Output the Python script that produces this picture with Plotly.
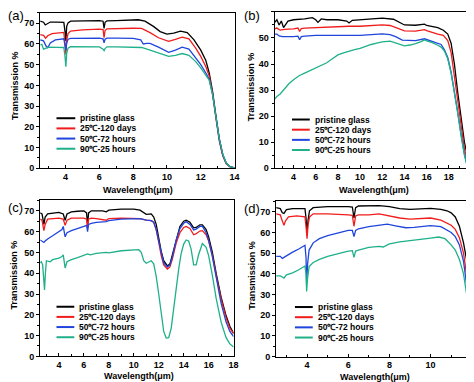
import plotly.graph_objects as go

W, H = 474, 382

series_names = ["pristine glass", "25℃-120 days", "50℃-72 hours", "90℃-25 hours"]
series_colors = ["#000000", "#f01c1c", "#1f45dc", "#1fb08a"]

# ---------------- Panel (a) ----------------
a_black_x = [2.5, 2.7, 2.8, 2.9, 3.1, 3.5, 3.9, 3.97, 4.02, 4.07, 4.15, 4.3, 5.0, 6.0, 6.22, 6.28, 6.34, 6.45, 7.0, 8.0, 8.3, 8.7, 9.2, 9.6, 10.0, 10.4, 10.8, 11.2, 11.6, 12.0, 12.3, 12.5, 12.7, 12.9, 13.1, 13.3, 13.5, 13.7, 14.0]
a_black_y = [71.0, 70.5, 69.2, 69.8, 70.6, 70.6, 70.4, 66.0, 61.5, 68.5, 70.2, 71.0, 71.2, 71.3, 71.0, 67.5, 70.5, 71.2, 71.3, 71.4, 71.7, 71.0, 68.5, 66.0, 64.8, 65.2, 66.2, 65.5, 62.0, 57.0, 52.0, 46.0, 37.0, 25.0, 14.0, 6.5, 2.5, 0.8, 0.2]
a_red_x = [2.5, 2.7, 2.82, 2.95, 3.2, 3.6, 3.9, 3.97, 4.02, 4.07, 4.15, 4.3, 5.0, 6.0, 6.22, 6.28, 6.34, 6.45, 7.0, 8.0, 8.5, 9.0, 9.5, 10.1, 10.5, 10.9, 11.3, 11.7, 12.0, 12.3, 12.5, 12.7, 12.9, 13.1, 13.3, 13.5, 13.7, 14.0]
a_red_y = [64.5, 64.2, 62.8, 64.0, 65.0, 65.5, 65.6, 60.0, 55.0, 62.0, 65.0, 66.2, 66.8, 67.2, 67.0, 63.0, 66.5, 67.3, 67.5, 67.6, 67.5, 65.5, 63.0, 61.3, 62.2, 63.3, 62.5, 58.0, 54.0, 49.0, 44.5, 36.0, 24.0, 13.0, 6.0, 2.2, 0.7, 0.2]
a_blue_x = [2.5, 2.7, 2.85, 2.95, 3.1, 3.4, 3.9, 3.97, 4.02, 4.07, 4.15, 4.3, 5.0, 6.0, 6.22, 6.28, 6.34, 6.45, 7.0, 8.0, 8.45, 8.6, 8.8, 9.0, 9.5, 10.1, 10.5, 10.9, 11.3, 11.7, 12.0, 12.3, 12.5, 12.7, 12.9, 13.1, 13.3, 13.5, 13.7, 14.0]
a_blue_y = [62.0, 61.5, 59.0, 58.2, 60.5, 62.0, 62.5, 59.5, 57.0, 60.5, 62.3, 62.7, 62.8, 62.8, 62.5, 60.5, 62.3, 62.8, 62.8, 62.7, 62.0, 60.0, 60.3, 60.3, 58.5, 56.0, 57.0, 58.5, 57.5, 53.5, 50.0, 46.0, 43.0, 35.5, 24.0, 13.5, 6.5, 2.5, 0.8, 0.2]
a_green_x = [2.5, 2.6, 2.7, 2.8, 3.0, 3.5, 3.9, 3.97, 4.02, 4.07, 4.15, 4.3, 5.0, 6.0, 6.22, 6.28, 6.34, 6.45, 7.0, 8.0, 8.5, 9.0, 9.5, 10.1, 10.5, 10.9, 11.3, 11.7, 12.0, 12.3, 12.5, 12.7, 12.9, 13.1, 13.3, 13.5, 13.7, 14.0]
a_green_y = [59.5, 59.8, 57.5, 57.8, 58.5, 58.4, 58.3, 54.0, 49.0, 55.5, 58.0, 58.7, 58.8, 58.6, 57.5, 56.8, 57.8, 58.6, 58.6, 58.6, 58.3, 57.0, 55.5, 54.0, 54.5, 55.4, 54.5, 51.5, 48.5, 45.0, 42.5, 35.5, 24.5, 14.0, 6.8, 2.6, 0.8, 0.2]

# ---------------- Panel (b) ----------------
b_black_x = [2.3, 2.5, 2.7, 2.9, 3.1, 3.3, 3.5, 4.0, 5.0, 5.7, 6.0, 6.2, 6.5, 7.0, 8.0, 8.8, 9.0, 9.3, 10.0, 11.0, 12.0, 13.0, 13.7, 14.0, 15.0, 15.8, 16.0, 16.5, 17.0, 17.5, 17.9, 18.2, 18.5, 18.8, 19.1, 19.4, 19.7, 19.95]
b_black_y = [56.0, 57.0, 55.0, 56.5, 54.0, 55.5, 56.5, 57.0, 57.3, 57.8, 57.0, 56.0, 57.3, 57.0, 57.0, 56.5, 55.8, 56.8, 57.0, 57.3, 57.6, 57.2, 55.5, 55.0, 54.9, 55.3, 54.8, 54.5, 54.0, 53.0, 51.5, 48.0, 40.0, 29.0, 18.5, 10.0, 4.0, 0.3]
b_red_x = [2.3, 2.5, 2.8, 3.2, 4.0, 4.4, 4.55, 4.7, 5.0, 6.0, 7.0, 8.0, 9.0, 10.0, 11.0, 12.0, 12.7, 13.2, 13.7, 14.0, 15.0, 15.8, 16.0, 16.5, 17.0, 17.5, 17.9, 18.2, 18.5, 18.8, 19.1, 19.4, 19.7, 19.85]
b_red_y = [53.5, 53.8, 53.0, 53.3, 53.5, 53.8, 52.5, 53.6, 53.8, 54.0, 54.2, 54.4, 54.5, 54.5, 54.7, 55.0, 54.8, 54.0, 53.0, 52.7, 52.6, 53.2, 52.8, 52.0, 51.5, 51.0, 49.0, 44.5, 35.0, 24.5, 15.0, 7.5, 2.0, 0.3]
b_blue_x = [2.3, 2.5, 2.7, 3.0, 4.0, 4.4, 4.55, 4.7, 5.0, 6.0, 7.0, 8.0, 9.0, 10.0, 11.0, 12.0, 12.7, 13.2, 13.8, 14.5, 15.0, 15.8, 16.0, 16.5, 17.0, 17.3, 17.6, 17.9, 18.2, 18.5, 18.8, 19.1, 19.4, 19.65, 19.8]
b_blue_y = [51.5, 51.5, 50.8, 50.5, 50.5, 50.7, 49.3, 50.5, 50.7, 51.0, 51.0, 51.0, 51.0, 51.0, 51.3, 51.6, 51.3, 50.5, 49.2, 49.0, 49.0, 49.7, 49.4, 48.7, 48.0, 47.5, 45.5, 42.5, 37.0, 30.0, 21.5, 13.0, 5.5, 1.0, 0.0]
b_green_x = [2.3, 2.5, 2.8, 3.2, 3.6, 4.0, 4.5, 5.0, 5.5, 6.0, 6.5, 7.0, 7.5, 8.0, 8.5, 9.0, 9.5, 10.0, 10.5, 11.0, 11.5, 12.0, 12.7, 13.2, 13.7, 14.0, 14.5, 15.0, 15.5, 15.8, 16.0, 16.5, 17.0, 17.3, 17.6, 17.9, 18.2, 18.5, 18.8, 19.1, 19.4, 19.65, 19.75]
b_green_y = [26.5, 27.5, 28.5, 30.5, 32.5, 34.0, 35.5, 36.5, 37.5, 38.5, 39.3, 40.5, 42.0, 43.5, 44.3, 45.0, 45.5, 46.0, 46.8, 47.5, 48.0, 48.5, 48.8, 48.0, 47.3, 47.0, 47.3, 47.8, 48.6, 49.3, 48.9, 48.2, 47.2, 46.5, 45.0, 42.0, 36.5, 29.5, 21.0, 12.5, 5.0, 0.8, 0.0]

# ---------------- Panel (c) ----------------
c_black_x = [2.5, 2.65, 2.8, 2.9, 3.1, 3.5, 4.0, 4.35, 4.5, 4.65, 5.0, 5.5, 6.0, 6.22, 6.3, 6.38, 6.6, 7.0, 7.5, 7.8, 8.0, 9.0, 10.0, 10.5, 10.8, 11.0, 11.4, 11.6, 11.8, 12.0, 12.2, 12.4, 12.7, 12.9, 13.1, 13.4, 13.7, 14.0, 14.2, 14.5, 14.8, 15.0, 15.3, 15.5, 15.8, 16.0, 16.3, 16.6, 17.0, 17.4, 17.7, 18.0]
c_black_y = [69.0, 68.5, 63.5, 67.0, 68.5, 69.0, 69.3, 68.5, 65.5, 68.5, 69.5, 69.8, 70.0, 69.0, 63.0, 69.0, 70.0, 70.0, 70.0, 69.5, 70.3, 70.8, 70.8, 70.3, 69.0, 68.3, 68.5, 67.0, 63.5, 57.0, 50.5, 46.0, 43.5, 44.5, 49.0, 57.0, 62.5, 65.0, 65.5, 64.5, 61.8, 62.0, 63.3, 63.3, 61.0, 57.5, 50.0, 40.0, 28.5, 19.5, 14.5, 11.0]
c_red_x = [2.5, 2.65, 2.8, 2.9, 3.1, 3.5, 4.0, 4.35, 4.5, 4.65, 5.0, 6.0, 6.22, 6.3, 6.38, 6.6, 7.0, 7.8, 8.0, 9.0, 10.0, 10.5, 11.0, 11.4, 11.6, 11.8, 12.0, 12.2, 12.4, 12.7, 12.9, 13.1, 13.4, 13.7, 14.0, 14.2, 14.5, 14.8, 15.0, 15.3, 15.5, 15.8, 16.0, 16.3, 16.6, 17.0, 17.4, 17.7, 18.0]
c_red_y = [66.0, 65.5, 60.5, 63.5, 66.0, 66.3, 66.5, 66.0, 63.0, 65.5, 66.5, 66.5, 66.0, 61.5, 66.0, 66.5, 66.3, 65.5, 66.3, 66.5, 66.5, 66.3, 65.5, 65.3, 64.5, 61.0, 55.0, 48.5, 44.0, 42.0, 43.0, 47.0, 54.5, 59.5, 62.0, 62.5, 61.5, 58.5, 59.0, 60.3, 60.5, 58.5, 55.5, 48.5, 39.0, 27.5, 18.5, 13.5, 11.0]
c_blue_x = [2.5, 2.65, 2.8, 2.9, 3.1, 3.5, 4.0, 4.25, 4.35, 4.5, 4.65, 5.0, 6.0, 6.22, 6.3, 6.38, 6.6, 7.0, 7.8, 8.0, 9.0, 10.0, 10.5, 11.0, 11.4, 11.6, 11.8, 12.0, 12.2, 12.4, 12.7, 12.9, 13.1, 13.4, 13.7, 14.0, 14.2, 14.5, 14.8, 15.0, 15.3, 15.5, 15.8, 16.0, 16.3, 16.6, 17.0, 17.4, 17.7, 18.0]
c_blue_y = [56.0, 55.5, 54.8, 55.5, 56.5, 58.0, 60.0, 61.0, 62.5, 57.5, 59.5, 60.5, 62.5, 63.0, 60.0, 63.5, 64.0, 64.5, 64.8, 65.3, 66.0, 66.3, 66.3, 65.5, 65.3, 64.5, 61.0, 55.5, 49.5, 45.0, 43.0, 44.0, 48.0, 56.0, 61.5, 64.0, 64.8, 63.5, 60.8, 61.2, 62.5, 62.5, 59.5, 56.0, 48.0, 37.5, 25.5, 16.5, 12.0, 9.5]
c_green_x = [2.5, 2.6, 2.7, 2.8, 2.85, 2.92, 3.0, 3.3, 3.5, 4.0, 4.25, 4.35, 4.5, 4.65, 5.0, 5.5, 6.0, 6.3, 6.5, 7.0, 7.8, 8.0, 9.0, 10.0, 10.4, 10.6, 10.8, 11.0, 11.2, 11.4, 11.6, 11.8, 12.0, 12.2, 12.4, 12.6, 12.8, 13.0, 13.2, 13.4, 13.6, 13.8, 14.0, 14.2, 14.4, 14.6, 14.8, 15.0, 15.2, 15.5, 15.8, 16.0, 16.3, 16.6, 17.0, 17.4, 17.7, 18.0]
c_green_y = [45.0, 45.5, 44.0, 38.0, 32.0, 40.0, 46.0, 45.5, 46.5, 47.3, 48.0, 48.8, 42.5, 45.5, 46.5, 47.5, 48.5, 49.3, 48.8, 49.5, 50.0, 49.8, 50.8, 51.3, 51.3, 50.0, 46.0, 44.8, 45.5, 46.0, 44.5, 38.5, 30.0, 20.0, 12.0, 8.8, 9.0, 13.5, 22.0, 32.5, 42.0, 49.5, 54.0, 56.0, 55.5, 51.5, 44.0, 44.0, 49.0, 54.3, 52.5, 48.5, 39.0, 28.0, 16.5, 9.0, 6.0, 4.5]

# ---------------- Panel (d) ----------------
d_black_x = [2.5, 2.7, 2.8, 2.88, 3.0, 3.3, 3.6, 3.9, 3.95, 4.0, 4.05, 4.12, 4.3, 5.0, 6.0, 6.2, 6.28, 6.36, 6.5, 7.0, 7.5, 8.0, 8.5, 9.0, 9.5, 10.0, 10.5, 10.8, 11.0, 11.2, 11.4, 11.6, 11.8, 12.0]
d_black_y = [72.0, 71.5, 69.5, 69.2, 71.0, 71.5, 71.5, 71.5, 67.0, 60.0, 66.0, 70.5, 72.0, 72.5, 72.5, 72.3, 67.0, 72.0, 72.8, 73.0, 73.0, 72.5, 71.5, 71.2, 71.5, 71.6, 71.2, 70.5, 69.5, 67.5, 63.0, 55.0, 44.0, 24.0]
d_red_x = [2.5, 2.7, 2.8, 2.88, 2.95, 3.1, 3.5, 3.9, 3.95, 4.0, 4.05, 4.12, 4.3, 5.0, 6.0, 6.2, 6.28, 6.36, 6.5, 7.0, 7.5, 8.0, 8.5, 9.0, 9.5, 10.0, 10.5, 11.0, 11.2, 11.4, 11.6, 11.8, 12.0]
d_red_y = [69.0, 68.5, 65.5, 63.5, 65.5, 67.5, 68.0, 67.5, 63.0, 57.0, 63.5, 67.5, 69.0, 69.0, 68.5, 68.3, 63.0, 68.0, 68.5, 68.5, 69.0, 68.0, 67.0, 66.5, 66.8, 67.0, 66.0, 63.5, 61.5, 57.5, 50.0, 36.0, 15.0]
d_blue_x = [2.5, 2.7, 2.8, 2.88, 3.0, 3.3, 3.6, 3.9, 3.95, 3.98, 4.03, 4.1, 4.3, 4.6, 5.0, 5.5, 6.0, 6.2, 6.28, 6.36, 6.5, 7.0, 7.5, 7.9, 8.3, 8.8, 9.2, 10.0, 10.5, 11.0, 11.2, 11.4, 11.6, 11.8, 12.0]
d_blue_y = [48.5, 48.5, 47.5, 48.0, 49.0, 50.5, 52.0, 53.8, 48.0, 36.0, 45.0, 51.5, 55.0, 57.0, 58.5, 59.8, 61.0, 61.0, 58.0, 61.0, 61.8, 62.8, 63.3, 64.0, 63.2, 62.3, 62.5, 63.3, 62.8, 60.0, 58.0, 54.0, 46.0, 31.0, 11.0]
d_green_x = [2.5, 2.7, 2.8, 2.88, 3.0, 3.3, 3.6, 3.9, 3.95, 3.98, 4.03, 4.1, 4.3, 4.6, 5.0, 5.5, 6.0, 6.2, 6.28, 6.36, 6.5, 7.0, 7.5, 7.7, 8.0, 8.5, 9.0, 9.5, 10.0, 10.4, 10.7, 11.0, 11.2, 11.4, 11.6, 11.8, 12.0]
d_green_y = [39.0, 39.0, 38.5, 38.0, 39.5, 40.5, 42.0, 43.8, 40.0, 31.5, 38.0, 43.5, 45.5, 47.0, 48.5, 49.8, 51.0, 51.2, 48.0, 51.0, 51.5, 52.8, 53.3, 53.0, 54.5, 55.5, 56.0, 56.8, 57.3, 57.8, 57.0, 54.0, 51.5, 47.0, 40.0, 27.0, 8.0]

panel_labels = ["(a)", "(b)", "(c)", "(d)"]
x_ranges = [[2.5, 14], [2.3, 20], [2.5, 18], [2.5, 12]]
y_ranges = [[0, 75], [0, 60], [0, 75], [0, 75]]
x_title = "Wavelength(μm)"
y_title = "Transmission %"

panels = [
    [(a_black_x, a_black_y), (a_red_x, a_red_y), (a_blue_x, a_blue_y), (a_green_x, a_green_y)],
    [(b_black_x, b_black_y), (b_red_x, b_red_y), (b_blue_x, b_blue_y), (b_green_x, b_green_y)],
    [(c_black_x, c_black_y), (c_red_x, c_red_y), (c_blue_x, c_blue_y), (c_green_x, c_green_y)],
    [(d_black_x, d_black_y), (d_red_x, d_red_y), (d_blue_x, d_blue_y), (d_green_x, d_green_y)],
]

# layout geometry in pixels: (left, right, top, bottom)
boxes = [(32.5, 229, 5, 162.3), (269.5, 468, 4, 162.3), (32.5, 228, 195, 353), (271, 468.7, 196, 353.3)]
legend_pos = [(49, 68, 71, 111.7), (287, 305, 308, 113), (49, 67, 70, 302.7), (290, 308, 311, 303)]
legend_gap = 10.3
panel_label_pos = [(-1, 8), (237, 8), (-1, 202), (238, 203)]
ytitle_pos = [(7, 78), (246, 80), (7, 270), (247, 271)]
xtitle_pos = [(131, 184), (370, 184), (132, 373), (371, 374)]

def px(x):
    return x / W

def py(y):
    return 1 - y / H

fig = go.Figure()
annotations = []
shapes = []
bold = dict(family="Liberation Sans, Arial, sans-serif", size=9, color="black", weight="bold")

for i, series in enumerate(panels):
    sfx = "" if i == 0 else str(i + 1)
    for (xs, ys), name, col in zip(series, series_names, series_colors):
        fig.add_trace(go.Scatter(x=xs, y=ys, mode="lines", name=name,
                                 line=dict(color=col, width=1.3),
                                 xaxis="x" + sfx, yaxis="y" + sfx, showlegend=False))
    l, r, t, b = boxes[i]
    axis_common = dict(showgrid=False, zeroline=False, showline=True, linecolor="black",
                       linewidth=1, mirror=True, tickfont=bold, ticks="outside",
                       ticklen=3, tickcolor="black")
    fig.layout["xaxis" + sfx] = dict(axis_common, domain=[px(l), px(r)], range=x_ranges[i],
                                     dtick=2, tick0=0, ticks="inside", anchor="y" + sfx,
                                     minor=dict(dtick=1, ticks="inside", ticklen=2, tickcolor="black"))
    fig.layout["yaxis" + sfx] = dict(axis_common, domain=[py(b), py(t)], range=y_ranges[i],
                                     dtick=10, tick0=0, anchor="x" + sfx,
                                     minor=dict(dtick=5, ticks="outside", ticklen=2, tickcolor="black"))
    # legend (drawn in the panel)
    lx0, lx1, tx, ly = legend_pos[i]
    for k, (name, col) in enumerate(zip(series_names, series_colors)):
        yy = ly + k * legend_gap
        shapes.append(dict(type="line", xref="paper", yref="paper", x0=px(lx0), x1=px(lx1),
                           y0=py(yy), y1=py(yy), line=dict(color=col, width=2)))
        annotations.append(dict(text=name, xref="paper", yref="paper", x=px(tx), y=py(yy),
                                xanchor="left", yanchor="middle", showarrow=False,
                                font=dict(family="Liberation Sans, Arial, sans-serif", size=8.5,
                                          color="black", weight="bold")))
    # panel label
    plx, ply = panel_label_pos[i]
    annotations.append(dict(text=panel_labels[i], xref="paper", yref="paper", x=px(plx), y=py(ply),
                            xanchor="left", yanchor="middle", showarrow=False, borderpad=0,
                            font=dict(family="Liberation Sans, Arial, sans-serif", size=13, color="black")))
    # axis titles
    yx, yy_ = ytitle_pos[i]
    annotations.append(dict(text=y_title, xref="paper", yref="paper", x=px(yx), y=py(yy_),
                            xanchor="center", yanchor="middle", textangle=-90, showarrow=False,
                            font=bold))
    xx, xy = xtitle_pos[i]
    annotations.append(dict(text=x_title, xref="paper", yref="paper", x=px(xx), y=py(xy),
                            xanchor="center", yanchor="middle", showarrow=False, font=bold))

fig.update_layout(width=W, height=H, margin=dict(l=0, r=0, t=0, b=0),
                  paper_bgcolor="white", plot_bgcolor="white",
                  annotations=annotations, shapes=shapes, showlegend=False)

fig.write_html("out.html")
